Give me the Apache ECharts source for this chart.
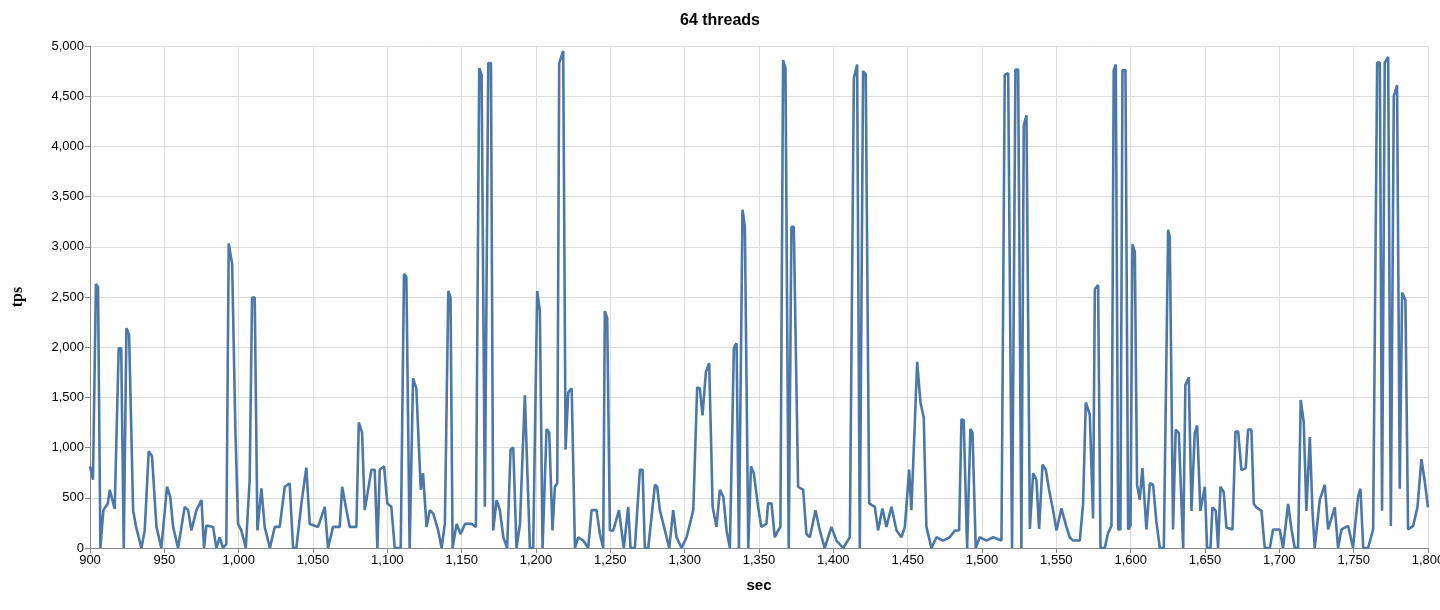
<!DOCTYPE html>
<html>
<head>
<meta charset="utf-8">
<script src="https://cdn.jsdelivr.net/npm/echarts@6/dist/echarts.min.js"></script>
<style>
  html, body { margin: 0; padding: 0; background: #fff; }
  #chart { width: 1440px; height: 610px; }
</style>
</head>
<body>
<div id="chart"></div>
<script>
// values
const secs = [
  900, 902, 904, 905.4, 907, 909, 912, 913.3, 916.6, 919.3, 921, 922.7, 924.5, 926.3, 929, 931, 934.6, 936.8, 939.5, 941.7,
  944.7, 948, 951.8, 954, 955.9, 959.2, 963.7, 966, 968.2, 971.6, 975, 976.7, 978.3, 982.8, 985, 987.3, 989.5, 991.7, 993.3, 995.6,
  997.8, 999.6, 1001.8, 1004.8, 1007.4, 1009, 1010.8, 1012.6, 1015.3, 1017.5, 1021, 1024.3, 1027.6, 1031, 1034.3, 1036.6, 1038.8, 1042.2, 1045.5, 1047.8,
  1053.4, 1057.9, 1060.1, 1063.5, 1068, 1069.6, 1072.5, 1074.7, 1079.2, 1080.8, 1083, 1084.8, 1089.3, 1091.5, 1093.3, 1094.9, 1097.8, 1100, 1102.7, 1105,
  1109, 1111.2, 1112.8, 1115, 1117.3, 1119.5, 1122.5, 1124, 1126.4, 1128.6, 1130.9, 1134.2, 1136.5, 1138.7, 1141, 1142.5, 1143.9, 1146.6, 1149.3, 1152.2,
  1156.7, 1159.6, 1161.8, 1163.4, 1165.6, 1167.9, 1169.7, 1171.2, 1173.5, 1175.7, 1178, 1180.6, 1182.9, 1184.7, 1186.9, 1189.2, 1192.5, 1193.6, 1195.9, 1198.1,
  1200.8, 1202.6, 1204.4, 1207.1, 1208.9, 1211.1, 1212.7, 1214.3, 1215.6, 1218.3, 1219.9, 1221.7, 1224, 1226.2, 1228.4, 1231.8, 1235.1, 1237.4, 1240.7, 1243,
  1245.2, 1246.3, 1247.9, 1249.7, 1252, 1255.8, 1257.5, 1259.1, 1262, 1263.6, 1266.5, 1269.9, 1271.7, 1273.2, 1275.5, 1280, 1281.5, 1283.3, 1286.7, 1289.6,
  1292.3, 1294.5, 1297.9, 1301.3, 1305.8, 1308.4, 1310.2, 1312, 1314.3, 1316.5, 1318.8, 1321.4, 1323.7, 1326, 1328.2, 1330.4, 1333.1, 1334.9, 1336.5, 1338.9,
  1340.5, 1342.8, 1344.6, 1346.5, 1349.4, 1351.6, 1355, 1356.1, 1358.4, 1360.6, 1362.9, 1364.4, 1366.2, 1367.8, 1370, 1371.8, 1373.4, 1376.3, 1379.7, 1381.9,
  1384.2, 1388, 1390.9, 1394.2, 1398.7, 1402.1, 1406.6, 1411.1, 1413.8, 1416, 1417.8, 1420, 1421.8, 1424.1, 1427.9, 1430.1, 1433, 1435.7, 1439.1, 1442.5,
  1445.8, 1448.1, 1451, 1452.5, 1456.4, 1458.6, 1460.8, 1462.6, 1466, 1469.4, 1473.8, 1478.3, 1481.7, 1484.6, 1486.2, 1487.7, 1490, 1492.2, 1493.6, 1495.8,
  1498.5, 1503, 1507.5, 1513.1, 1515.3, 1517.6, 1520.2, 1522.5, 1524.3, 1526.5, 1528.1, 1529.9, 1532.2, 1534.4, 1536.6, 1538.4, 1540.7, 1542.9, 1545.1, 1547.8,
  1550.1, 1553.4, 1556.8, 1559, 1561.3, 1565.8, 1568, 1569.8, 1572.5, 1574.7, 1575.9, 1578.1, 1579.7, 1582.6, 1584.8, 1587.1, 1588.6, 1590, 1591.6, 1593.1,
  1594.5, 1596.5, 1598.3, 1599.9, 1601.2, 1602.8, 1604.3, 1606.1, 1607.9, 1609, 1610.6, 1612.9, 1615.1, 1617.3, 1619.6, 1622.3, 1625.2, 1626.3, 1628.5, 1630.3,
  1632.4, 1635.3, 1636.8, 1639.1, 1640.9, 1643.1, 1644.7, 1646.9, 1649.9, 1651.4, 1653.7, 1655, 1657.3, 1658.8, 1660.4, 1662.6, 1664.4, 1668.5, 1670.5, 1672.3,
  1674.5, 1677.4, 1679, 1681.2, 1682.8, 1684.6, 1688, 1690.2, 1693.6, 1695.8, 1700.3, 1702.5, 1705.9, 1708.2, 1710.4, 1712.6, 1714.4, 1716.4, 1718.2, 1720.5,
  1722.3, 1723.8, 1727.2, 1730.6, 1732.8, 1737.3, 1739.5, 1741.8, 1746.3, 1749.6, 1751.2, 1753, 1754.6, 1756.4, 1759.7, 1763.1, 1765.8, 1767.6, 1769.1, 1770.9,
  1773.2, 1775, 1777, 1779.2, 1781, 1782.6, 1784.8, 1786.6, 1790, 1792.9, 1795.6, 1797.8, 1800
];
const tps = [
  814, 680, 2630, 2600, 0, 377, 444, 580, 390, 1990, 1990, 0, 2190, 2125, 377, 210, 0, 175, 965, 915,
  210, 0, 610, 510, 210, 0, 410, 377, 175, 377, 477, 0, 225, 210, 0, 107, 0, 40, 3033, 2830,
  1167, 240, 175, 0, 680, 2495, 2495, 175, 595, 210, 0, 210, 210, 610, 645, 0, 0, 444, 800, 240,
  210, 410, 0, 210, 210, 610, 377, 210, 210, 1250, 1150, 377, 780, 780, 0, 780, 814, 444, 410, 0,
  0, 2730, 2700, 0, 1690, 1590, 580, 745, 210, 377, 343, 175, 0, 240, 2560, 2495, 0, 240, 140, 240,
  240, 210, 4780, 4715, 410, 4830, 4830, 175, 477, 377, 107, 0, 980, 1000, 0, 240, 1520, 1520, 0, 0,
  2560, 2360, 0, 1185, 1150, 175, 610, 645, 4830, 4950, 980, 1550, 1590, 0, 107, 74, 0, 377, 377, 140,
  0, 2360, 2290, 175, 175, 377, 175, 0, 410, 0, 0, 780, 780, 0, 0, 630, 610, 377, 175, 0,
  377, 107, 0, 107, 377, 1600, 1590, 1320, 1755, 1840, 410, 210, 580, 510, 175, 0, 1990, 2040, 0, 3370,
  3200, 0, 815, 745, 410, 210, 240, 444, 444, 107, 175, 210, 4860, 4780, 0, 3200, 3200, 610, 580, 140,
  107, 377, 175, 0, 210, 74, 0, 107, 4680, 4815, 0, 4750, 4715, 444, 410, 175, 394, 210, 410, 175,
  107, 210, 780, 377, 1855, 1450, 1300, 210, 0, 107, 74, 107, 175, 175, 1285, 1270, 0, 1185, 1150, 0,
  107, 74, 107, 74, 4715, 4730, 0, 4765, 4765, 0, 4210, 4310, 190, 745, 680, 190, 830, 780, 580, 377,
  175, 394, 210, 107, 74, 74, 444, 1450, 1330, 295, 2580, 2620, 0, 0, 150, 220, 4760, 4815, 185, 185,
  4760, 4760, 185, 220, 3025, 2950, 630, 480, 795, 810, 185, 645, 630, 260, 0, 0, 3170, 3100, 185, 1180,
  1145, 0, 1625, 1700, 370, 1145, 1220, 370, 610, 0, 0, 405, 370, 0, 610, 555, 205, 185, 1160, 1160,
  775, 795, 1180, 1180, 440, 405, 370, 0, 0, 185, 185, 0, 440, 185, 0, 0, 1475, 1255, 370, 1105,
  370, 0, 480, 630, 185, 405, 0, 185, 220, 0, 260, 515, 590, 0, 0, 185, 4835, 4835, 370, 4835,
  4890, 220, 4500, 4610, 590, 2545, 2470, 185, 220, 405, 885, 665, 405
];

const points = secs.map((s, i) => [s, tps[i]]);
const fmt = v => v.toLocaleString('en-US');

const chart = echarts.init(document.getElementById('chart'));
chart.setOption({
  animation: false,
  title: {
    text: '64 threads', left: 'center', top: 8,
    textStyle: { fontFamily: 'Liberation Sans', fontSize: 16, fontWeight: 'bold', color: '#000' }
  },
  grid: { left: 90, right: 12, top: 46, bottom: 62, outerBoundsMode: 'none', containLabel: false },
  xAxis: {
    type: 'value', min: 900, max: 1800, interval: 50,
    name: 'sec', nameLocation: 'middle', nameGap: 30,
    nameTextStyle: { fontFamily: 'Liberation Sans', fontSize: 15, fontWeight: 'bold', color: '#000' },
    axisLine: { lineStyle: { color: '#888' } },
    axisTick: { show: true, length: 5, lineStyle: { color: '#888' } },
    axisLabel: { fontFamily: 'Liberation Sans', fontSize: 13, color: '#000', formatter: fmt, margin: 6 },
    splitLine: { lineStyle: { color: '#ddd' } }
  },
  yAxis: {
    type: 'value', min: 0, max: 5000, interval: 500,
    name: 'tps', nameLocation: 'middle', nameGap: 64, nameRotate: 90,
    nameTextStyle: { fontFamily: 'Liberation Serif', fontSize: 16, fontWeight: 'bold', color: '#000' },
    axisLine: { show: true, lineStyle: { color: '#888' } },
    axisTick: { show: true, length: 5, lineStyle: { color: '#888' } },
    axisLabel: { fontFamily: 'Liberation Sans', fontSize: 13, color: '#000', formatter: fmt, margin: 6 },
    splitLine: { lineStyle: { color: '#ddd' } }
  },
  series: [{
    type: 'line',
    data: points,
    showSymbol: false,
    lineStyle: { color: '#4c78a8', width: 2.6 }
  }]
});
</script>
</body>
</html>
